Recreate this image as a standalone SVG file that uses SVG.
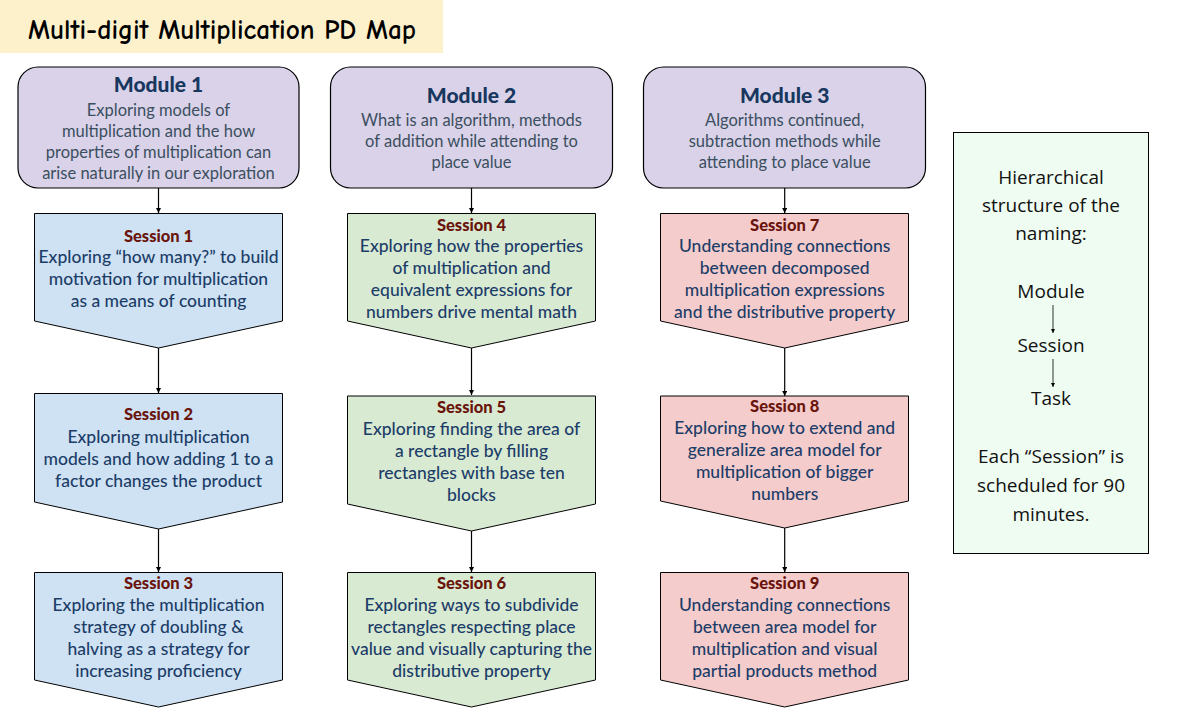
<svg xmlns="http://www.w3.org/2000/svg" width="1182" height="714" viewBox="0 0 1182 714">
<defs>
<marker id="ah" viewBox="0 0 10 10" refX="10" refY="5" markerWidth="5" markerHeight="5" orient="auto" markerUnits="userSpaceOnUse">
<path d="M0,0 L10,5 L0,10 z" fill="#000"/>
</marker>
<marker id="ahs" viewBox="0 0 10 10" refX="10" refY="5" markerWidth="4" markerHeight="4" orient="auto" markerUnits="userSpaceOnUse">
<path d="M0,0 L10,5 L0,10 z" fill="#000"/>
</marker>
</defs>
<style>
.mod{fill:#d9d2e9;stroke:#000;stroke-width:1.2}
.s1{fill:#cfe2f3;stroke:#000;stroke-width:1}
.s2{fill:#d9ead3;stroke:#000;stroke-width:1}
.s3{fill:#f4cccc;stroke:#000;stroke-width:1}
.mt{font-family:Lato,"Noto Sans",sans-serif;font-weight:900;font-size:21px;fill:#17375e;text-anchor:middle}
.md{font-family:Lato,"Noto Sans",sans-serif;font-size:16.5px;fill:#3b4f5e;text-anchor:middle}
.st{font-family:Lato,"Noto Sans",sans-serif;font-weight:900;font-size:16.5px;fill:#6a150c;text-anchor:middle}
.sb{font-family:Lato,"Noto Sans",sans-serif;font-weight:500;font-size:17.5px;fill:#1c3d68;text-anchor:middle}
.rt{font-family:"Open Sans","Noto Sans",sans-serif;font-size:19px;fill:#111;text-anchor:middle}
.cn{stroke:#000;stroke-width:1.2;fill:none;marker-end:url(#ah)}
.cs{stroke:#000;stroke-width:0.8;fill:none;marker-end:url(#ahs)}
</style>
<rect width="1182" height="714" fill="#fff"/>
<g id="title">
<rect x="0" y="0" width="443" height="53" fill="#fdf1cc"/>
<text x="28" y="39" font-family="'Comic Neue','DejaVu Sans Condensed','Liberation Sans Narrow',sans-serif" font-weight="bold" font-size="29" fill="#000" textLength="388" lengthAdjust="spacingAndGlyphs">Multi-digit Multiplication PD Map</text>
</g>
<g id="legend">
<rect x="953.5" y="132.5" width="195" height="421" fill="#effcf2" stroke="#000" stroke-width="1"/>
<text class="rt" x="1051" y="184">Hierarchical</text>
<text class="rt" x="1051" y="212">structure of the</text>
<text class="rt" x="1051" y="240">naming:</text>
<text class="rt" x="1051" y="298">Module</text>
<text class="rt" x="1051" y="352">Session</text>
<text class="rt" x="1051" y="405">Task</text>
<text class="rt" x="1051" y="463">Each “Session” is</text>
<text class="rt" x="1051" y="492">scheduled for 90</text>
<text class="rt" x="1051" y="521">minutes.</text>
</g>
<g id="module1">
<rect class="mod" x="18" y="67" width="281" height="121" rx="20"/>
<text class="mt" x="158.5" y="92">Module 1</text>
<text class="md" x="158.5" y="116">Exploring models of</text>
<text class="md" x="158.5" y="137">multiplication and the how</text>
<text class="md" x="158.5" y="158">properties of multiplication can</text>
<text class="md" x="158.5" y="179">arise naturally in our exploration</text>
</g>
<g id="module2">
<rect class="mod" x="330.5" y="67" width="282" height="121" rx="20"/>
<text class="mt" x="471.5" y="103">Module 2</text>
<text class="md" x="471.5" y="126">What is an algorithm, methods</text>
<text class="md" x="471.5" y="147">of addition while attending to</text>
<text class="md" x="471.5" y="168">place value</text>
</g>
<g id="module3">
<rect class="mod" x="643.5" y="67" width="282" height="121" rx="20"/>
<text class="mt" x="784.7" y="103">Module 3</text>
<text class="md" x="784.7" y="126">Algorithms continued,</text>
<text class="md" x="784.7" y="147">subtraction methods while</text>
<text class="md" x="784.7" y="168">attending to place value</text>
</g>
<g id="session1">
<path class="s1" d="M34.5,213.5 H282.5 V321 L158.5,348 L34.5,321 Z"/>
<text class="st" x="158.5" y="242">Session 1</text>
<text class="sb" x="158.5" y="263">Exploring “how many?” to build</text>
<text class="sb" x="158.5" y="285">motivation for multiplication</text>
<text class="sb" x="158.5" y="307">as a means of counting</text>
</g>
<g id="session2">
<path class="s1" d="M34.5,393.5 H282.5 V502 L158.5,529 L34.5,502 Z"/>
<text class="st" x="158.5" y="420">Session 2</text>
<text class="sb" x="158.5" y="443">Exploring multiplication</text>
<text class="sb" x="158.5" y="465">models and how adding 1 to a</text>
<text class="sb" x="158.5" y="487">factor changes the product</text>
</g>
<g id="session3">
<path class="s1" d="M34.5,572.5 H282.5 V680 L158.5,707 L34.5,680 Z"/>
<text class="st" x="158.5" y="589">Session 3</text>
<text class="sb" x="158.5" y="611">Exploring the multiplication</text>
<text class="sb" x="158.5" y="633">strategy of doubling &amp;</text>
<text class="sb" x="158.5" y="655">halving as a strategy for</text>
<text class="sb" x="158.5" y="677">increasing proficiency</text>
</g>
<g id="session4">
<path class="s2" d="M347.5,213.5 H595.5 V321 L471.5,348 L347.5,321 Z"/>
<text class="st" x="471.5" y="231">Session 4</text>
<text class="sb" x="471.5" y="252">Exploring how the properties</text>
<text class="sb" x="471.5" y="274">of multiplication and</text>
<text class="sb" x="471.5" y="296">equivalent expressions for</text>
<text class="sb" x="471.5" y="318">numbers drive mental math</text>
</g>
<g id="session5">
<path class="s2" d="M347.5,396 H595.5 V504 L471.5,531 L347.5,504 Z"/>
<text class="st" x="471.5" y="413">Session 5</text>
<text class="sb" x="471.5" y="435">Exploring finding the area of</text>
<text class="sb" x="471.5" y="457">a rectangle by filling</text>
<text class="sb" x="471.5" y="479">rectangles with base ten</text>
<text class="sb" x="471.5" y="501">blocks</text>
</g>
<g id="session6">
<path class="s2" d="M347.5,572.5 H595.5 V680 L471.5,707 L347.5,680 Z"/>
<text class="st" x="471.5" y="589">Session 6</text>
<text class="sb" x="471.5" y="611">Exploring ways to subdivide</text>
<text class="sb" x="471.5" y="633">rectangles respecting place</text>
<text class="sb" x="471.5" y="655">value and visually capturing the</text>
<text class="sb" x="471.5" y="677">distributive property</text>
</g>
<g id="session7">
<path class="s3" d="M660.5,213.5 H908.5 V321 L784.7,348 L660.5,321 Z"/>
<text class="st" x="784.7" y="231">Session 7</text>
<text class="sb" x="784.7" y="252">Understanding connections</text>
<text class="sb" x="784.7" y="274">between decomposed</text>
<text class="sb" x="784.7" y="296">multiplication expressions</text>
<text class="sb" x="784.7" y="318">and the distributive property</text>
</g>
<g id="session8">
<path class="s3" d="M660.5,396 H908.5 V501 L784.7,528 L660.5,501 Z"/>
<text class="st" x="784.7" y="412">Session 8</text>
<text class="sb" x="784.7" y="434">Exploring how to extend and</text>
<text class="sb" x="784.7" y="456">generalize area model for</text>
<text class="sb" x="784.7" y="478">multiplication of bigger</text>
<text class="sb" x="784.7" y="500">numbers</text>
</g>
<g id="session9">
<path class="s3" d="M660.5,572.5 H908.5 V680 L784.7,707 L660.5,680 Z"/>
<text class="st" x="784.7" y="589">Session 9</text>
<text class="sb" x="784.7" y="611">Understanding connections</text>
<text class="sb" x="784.7" y="633">between area model for</text>
<text class="sb" x="784.7" y="655">multiplication and  visual</text>
<text class="sb" x="784.7" y="677">partial products method</text>
</g>
<g id="connectors">
<line class="cn" x1="158.5" y1="188" x2="158.5" y2="213"/>
<line class="cn" x1="158.5" y1="348" x2="158.5" y2="393"/>
<line class="cn" x1="158.5" y1="529" x2="158.5" y2="572"/>
<line class="cn" x1="471.5" y1="188" x2="471.5" y2="213"/>
<line class="cn" x1="471.5" y1="348" x2="471.5" y2="395"/>
<line class="cn" x1="471.5" y1="531" x2="471.5" y2="572"/>
<line class="cn" x1="784.7" y1="188" x2="784.7" y2="213"/>
<line class="cn" x1="784.7" y1="348" x2="784.7" y2="396"/>
<line class="cn" x1="784.7" y1="528" x2="784.7" y2="572"/>
<line class="cs" x1="1053" y1="305" x2="1053" y2="333"/>
<line class="cs" x1="1053" y1="359" x2="1053" y2="387"/>
</g>
</svg>
